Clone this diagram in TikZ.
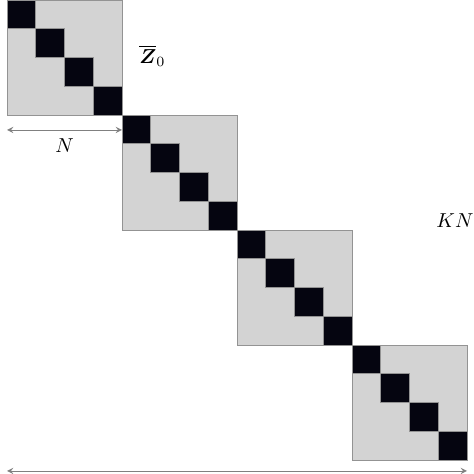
\documentclass[tikz,border=0pt]{standalone}
\usepackage{amsmath, amssymb, amsthm}
\usepackage{xcolor}
\usepackage{tikz}
\usetikzlibrary{calc}

\definecolor{blockgray}{RGB}{211,211,211}
\definecolor{blockdark}{RGB}{5,5,16}

\begin{document}
\begin{tikzpicture}[x = 0.5cm, y = 0.5cm]
			\def\nBLK{4};
			\def\xOFF{0.2435};
			\def\yMIN{-16.487};

			\useasboundingbox (-\xOFF,\yMIN) rectangle (16+\xOFF,0);

			\begin{scope}[draw = gray!85, line width = 0.4pt]
				\foreach \k in {0,...,3} {
					\draw [fill = blockgray] (4*\k,-4*\k) rectangle (4*\k+4,-4*\k-4);
					\foreach \j in {0,...,3}
						\draw [fill = blockdark] (4*\k+\j,-4*\k-\j) rectangle (4*\k+\j+1,-4*\k-\j-1);
				}
			\end{scope}

			\node (zlbl) at (5.06,-1.95) {$\overline{\boldsymbol{Z}}_0$};
			\node (knlbl) at (15.58,-7.69) {$KN$};

			\coordinate (nL) at (0,-4.52);
			\coordinate (nR) at (4,-4.52);
			\coordinate (kL) at (0,-16.38);
			\coordinate (kR) at (16,-16.38);

			\begin{scope}[stealth-stealth, gray]
				\draw (nL) -- (nR) node [midway, below = 1pt, text = black] (nlbl) {$N$};
				\draw (kL) -- (kR);
			\end{scope}
		\end{tikzpicture}
\end{document}
